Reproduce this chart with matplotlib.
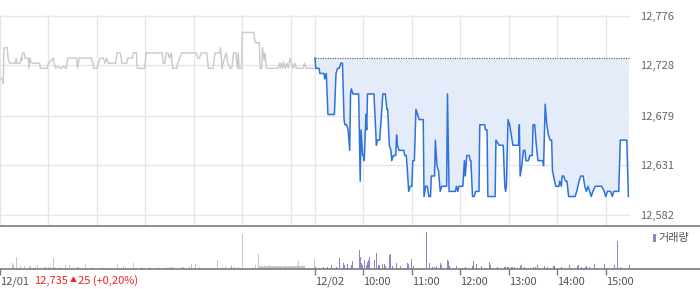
import matplotlib
matplotlib.use("Agg")
import matplotlib.pyplot as plt
from matplotlib.lines import Line2D
from matplotlib.patches import Rectangle

plt.rcParams['font.family'] = ['Noto Sans CJK KR', 'DejaVu Sans']

# ---------------- data ----------------
prev_close = 12735
y_ticks = [12582, 12631, 12679, 12728, 12776]
y_labels = ["12,582", "12,631", "12,679", "12,728", "12,776"]
date_labels = ["12/01", "12/02"]
hour_labels = ["10:00", "11:00", "12:00", "13:00", "14:00", "15:00"]
session_minutes = 390  # 09:00 - 15:30

# day 1 (12/01): minutes after 09:00, price
day1_minutes = [0, 3, 4, 5, 9, 10, 12, 19, 20, 21, 25, 26, 27, 28, 30, 31, 35, 36, 37, 39,
                49, 50, 58, 60, 64, 66, 67, 69, 71, 75, 79, 82, 84, 95, 96, 98, 113, 115, 116, 120,
                122, 124, 128, 130, 132, 134, 143, 145, 149, 151, 157, 158, 164, 165, 169, 170, 179, 181, 201, 202,
                204, 206, 208, 210, 212, 213, 214, 219, 220, 225, 243, 245, 247, 249, 256, 258, 264, 266, 272, 273,
                275, 276, 280, 282, 285, 287, 289, 292, 294, 295, 296, 299, 300, 314, 316, 321, 322, 324, 325, 327,
                328, 330, 344, 346, 347, 348, 350, 351, 353, 355, 357, 359, 361, 363, 365, 367, 375, 377, 379, 390]
day1_prices = [12715, 12715, 12710, 12745, 12745, 12735, 12730, 12730, 12735, 12730, 12730, 12735, 12733, 12740, 12740, 12735, 12735, 12725, 12735, 12730,
               12730, 12725, 12725, 12730, 12733, 12735, 12730, 12725, 12727, 12725, 12727, 12725, 12735, 12735, 12725, 12735, 12735, 12730, 12725, 12725,
               12730, 12735, 12735, 12730, 12735, 12730, 12730, 12740, 12740, 12730, 12730, 12735, 12735, 12740, 12740, 12725, 12725, 12740, 12740, 12730,
               12730, 12740, 12740, 12735, 12740, 12730, 12725, 12725, 12730, 12740, 12740, 12735, 12735, 12740, 12740, 12725, 12725, 12740, 12740, 12745,
               12725, 12730, 12740, 12730, 12725, 12725, 12740, 12740, 12725, 12740, 12725, 12725, 12760, 12760, 12750, 12750, 12725, 12725, 12745, 12733,
               12740, 12725, 12725, 12730, 12725, 12730, 12725, 12731, 12725, 12730, 12725, 12735, 12730, 12725, 12730, 12725, 12725, 12730, 12725, 12725]

# day 2 (12/02): minutes after 09:00, price
day2_minutes = [0, 1, 5, 6, 11, 12, 13, 14, 16, 24, 26, 28, 30, 32, 34, 36, 37, 39, 41, 43,
                44, 45, 47, 54, 56, 57, 59, 60, 61, 63, 64, 65, 73, 76, 77, 80, 81, 84, 87, 89,
                90, 92, 94, 95, 97, 100, 101, 102, 104, 110, 111, 113, 114, 116, 118, 120, 121, 123, 124, 125,
                127, 129, 134, 135, 137, 139, 141, 143, 144, 148, 149, 151, 153, 155, 157, 163, 164, 166, 174, 175,
                177, 178, 183, 185, 186, 188, 191, 192, 193, 195, 197, 199, 203, 204, 210, 211, 213, 214, 223, 224,
                228, 233, 235, 236, 237, 239, 241, 243, 245, 252, 253, 254, 256, 258, 260, 261, 264, 266, 269, 270,
                272, 274, 276, 282, 283, 285, 287, 289, 291, 293, 294, 298, 302, 303, 305, 306, 308, 310, 312, 314,
                322, 324, 327, 329, 332, 334, 336, 338, 340, 342, 344, 347, 349, 355, 358, 360, 362, 366, 368, 370,
                376, 378, 386, 388]
day2_prices = [12735, 12725, 12725, 12720, 12720, 12715, 12715, 12720, 12680, 12680, 12720, 12725, 12725, 12730, 12730, 12675, 12670, 12670, 12665, 12645,
               12700, 12705, 12700, 12700, 12615, 12665, 12640, 12640, 12635, 12680, 12665, 12700, 12700, 12650, 12655, 12655, 12665, 12700, 12700, 12685,
               12685, 12650, 12645, 12635, 12640, 12640, 12660, 12650, 12645, 12645, 12640, 12640, 12630, 12605, 12610, 12610, 12635, 12635, 12660, 12685,
               12680, 12675, 12675, 12600, 12610, 12610, 12600, 12600, 12620, 12620, 12655, 12630, 12625, 12605, 12610, 12610, 12700, 12605, 12605, 12610,
               12605, 12610, 12610, 12635, 12620, 12640, 12640, 12635, 12635, 12600, 12600, 12605, 12605, 12670, 12670, 12665, 12665, 12600, 12600, 12655,
               12650, 12650, 12610, 12605, 12610, 12675, 12670, 12660, 12650, 12650, 12670, 12620, 12630, 12645, 12645, 12635, 12635, 12640, 12640, 12670,
               12670, 12650, 12635, 12635, 12630, 12690, 12670, 12660, 12655, 12655, 12625, 12610, 12610, 12615, 12610, 12620, 12620, 12615, 12615, 12600,
               12600, 12605, 12615, 12620, 12620, 12610, 12605, 12610, 12605, 12600, 12605, 12610, 12610, 12610, 12605, 12600, 12605, 12605, 12600, 12605,
               12605, 12655, 12655, 12600]

# volume (relative units) per minute
vol1_minutes = [5, 15, 17, 20, 25, 26, 30, 31, 36, 38, 44, 46, 52, 55, 56, 60, 62, 66, 69, 75,
                81, 86, 96, 97, 106, 109, 115, 125, 127, 135, 145, 146, 153, 155, 165, 175, 185, 196, 206, 208,
                210, 212, 214, 226, 227, 235, 237, 242, 247, 255, 269, 275, 279, 281, 285, 287, 290, 295, 300, 313,
                316, 320, 321, 322, 323, 324, 325, 326, 327, 328, 329, 330, 331, 332, 333, 334, 335, 336, 337, 338,
                339, 340, 341, 342, 343, 344, 345, 346, 347, 348, 349, 350, 351, 352, 353, 354, 355, 356, 357, 358,
                359, 360, 361, 362, 363, 364, 365, 366, 367, 368, 369, 370, 371, 372, 373, 374, 375, 376, 377, 389]
vol1 = [800, 530, 370, 1130, 270, 430, 230, 130, 230, 230, 130, 330, 730, 130, 130, 130, 130, 1030, 130, 130,
        330, 330, 130, 130, 430, 530, 130, 230, 130, 130, 430, 130, 230, 130, 530, 130, 130, 130, 130, 230,
        130, 130, 130, 130, 130, 230, 430, 430, 130, 130, 830, 130, 230, 130, 130, 330, 130, 130, 3430, 130,
        330, 1430, 230, 230, 230, 230, 230, 200, 230, 230, 230, 230, 230, 230, 230, 330, 230, 230, 230, 200,
        230, 230, 230, 230, 1030, 230, 230, 230, 230, 230, 230, 200, 230, 230, 230, 230, 230, 230, 230, 230,
        230, 230, 230, 230, 230, 230, 230, 230, 330, 230, 230, 730, 230, 230, 230, 330, 230, 230, 230, 930]
vol2_minutes = [1, 10, 15, 20, 26, 27, 30, 35, 37, 40, 45, 46, 47, 52, 55, 56, 58, 59, 61, 64,
                65, 66, 67, 74, 76, 78, 79, 80, 84, 86, 87, 92, 94, 96, 101, 106, 114, 116, 119, 120,
                122, 125, 135, 138, 142, 146, 148, 150, 155, 157, 164, 165, 166, 175, 177, 186, 195, 196, 200, 206,
                208, 216, 217, 226, 235, 236, 238, 240, 243, 245, 247, 254, 256, 259, 271, 273, 275, 284, 288, 295,
                297, 305, 315, 325, 326, 330, 335, 336, 340, 346, 358, 369, 371, 374, 378, 389]
vol2 = [200, 130, 130, 330, 130, 130, 1030, 530, 330, 430, 330, 800, 330, 130, 1830, 1130, 530, 330, 830, 330,
        630, 830, 1130, 830, 1530, 430, 330, 330, 430, 430, 230, 1330, 1430, 230, 530, 230, 530, 430, 430, 930,
        230, 230, 1030, 3630, 530, 130, 130, 230, 530, 330, 830, 730, 230, 230, 630, 130, 230, 730, 430, 230,
        230, 630, 330, 130, 130, 130, 130, 130, 130, 130, 130, 230, 330, 130, 130, 130, 330, 230, 130, 230,
        230, 130, 330, 230, 330, 130, 130, 230, 130, 430, 430, 230, 330, 2730, 130, 330]

# ---------------- figure ----------------
W, H = 700, 289
fig = plt.figure(figsize=(W / 100, H / 100), dpi=100)

def fy(px):
    return 1 - px / H

grid_c = '#e6e6ea'
axis_c = '#7a7a80'
text_c = '#555555'

total = 2 * session_minutes
ax = fig.add_axes([0, fy(225), 630 / W, (225 - 15) / H])
ax.set_xlim(0, total)
span = (12776 - 12582) / 199.0
ax.set_ylim(12776 - (225 - 16) * span, 12776 + span)

x1 = list(day1_minutes)
x2 = [session_minutes + m for m in day2_minutes]

# grid
for t in y_ticks:
    ax.axhline(t, color=grid_c, lw=1, zorder=0)
grid_x = [h * 60 for h in range(0, 7)] + [session_minutes + h * 60 for h in range(0, 7)]
for gx in grid_x:
    ax.axvline(gx, color=grid_c, lw=1, zorder=0)

ax.fill_between(x2, day2_prices, prev_close, color='#e4ecf9', lw=0, zorder=1)
ax.plot(x1, day1_prices, color='#c8c8cd', lw=1.0, zorder=2)
ax.plot(x2, day2_prices, color='#2e72dd', lw=1.1, zorder=3)
ax.plot([session_minutes, total], [prev_close, prev_close], color='#555555',
        lw=0.8, ls=(0, (1, 1.2)), zorder=4)

ax.yaxis.tick_right()
ax.set_yticks(y_ticks)
ax.set_yticklabels(y_labels)
ax.tick_params(axis='y', length=0, pad=7.5, labelsize=8, labelcolor='#666666')
ax.set_xticks([])
for s in ax.spines.values():
    s.set_visible(False)

# volume panel
axv = fig.add_axes([0, fy(268.5), 630 / W, (268.5 - 227) / H])
axv.set_xlim(0, total)
axv.set_ylim(0, 4150)
axv.bar(vol1_minutes, vol1, width=1.1, color='#c6c6cc', lw=0, align='center')
axv.bar([session_minutes + m for m in vol2_minutes], vol2, width=1.1, color='#9682cc', lw=0, align='center')
for s in axv.spines.values():
    s.set_visible(False)
axv.set_yticks([])
tick_pos = [0, session_minutes] + [session_minutes + h * 60 for h in range(1, 7)]
axv.set_xticks(tick_pos)
axv.set_xticklabels([date_labels[0], date_labels[1]] + hour_labels)
axv.tick_params(axis='x', length=4, width=1, color=axis_c, pad=2, labelsize=8, labelcolor=text_c)
for lab in axv.get_xticklabels():
    lab.set_ha('left')

# full-width separator lines
fig.add_artist(Line2D([0, 1], [fy(225.5), fy(225.5)], color=axis_c, lw=1.2))
fig.add_artist(Line2D([0, 1], [fy(268.5), fy(268.5)], color=axis_c, lw=1.2))

# legend
fig.add_artist(Rectangle((652.5 / W, fy(242)), 3 / W, 8 / H, color='#9682cc', lw=0))
fig.text(658 / W, fy(238), "거래량", fontsize=8, color=text_c, va='center', ha='left')

# current value text
red = '#ee2222'
fig.text(34 / W, fy(280.5), "12,735", fontsize=8, color=red, va='center', ha='left')
fig.text(70 / W, fy(280.5), "▲", fontsize=5, color=red, va='center', ha='left')
fig.text(78 / W, fy(280.5), "25 (+0,20%)", fontsize=8, color=red, va='center', ha='left')

fig.savefig("out.png", dpi=100)
